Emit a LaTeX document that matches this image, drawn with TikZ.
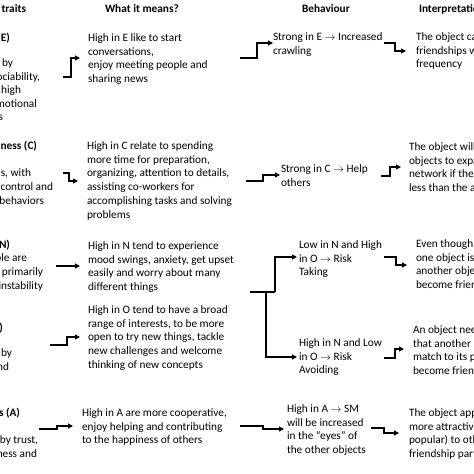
\documentclass[tikz,border=0pt]{standalone}
\usepackage{fontspec}
\setmainfont{Carlito}
\usetikzlibrary{arrows.meta}
\tikzset{
  txt/.style={inner sep=0pt, outer sep=0pt, align=left, anchor=base west, font=\fontsize{11.3}{13.7}\selectfont},
  lft/.style={inner sep=0pt, outer sep=0pt, anchor=base east, font=\fontsize{11.3}{13.7}\selectfont},
  lfthd/.style={lft, font=\fontsize{11.3}{13.7}\selectfont\bfseries},
  hd/.style={inner sep=0pt, outer sep=0pt, anchor=base west, font=\fontsize{11.3}{13.7}\selectfont\bfseries},
  conn/.style={line width=1.1pt, -{Triangle[length=5pt,width=5pt]}},
  plain/.style={line width=1.1pt},
}
\newcommand{\ar}{$\rightarrow$}
\begin{document}
\begin{tikzpicture}[x=1pt,y=-1pt]
\useasboundingbox (0,0) rectangle (474,474);
\fill[white] (0,0) rectangle (474,474);
\clip (0,0) rectangle (474,474);
% headers
\node[lfthd] (h1) at (26,12) {Personality traits};
\node[hd] (h2) at (105,12) {What it means?};
\node[hd] (h3) at (302,12) {Behaviour};
\node[hd] (h4) at (419,12) {Interpretation};
% left column E
\node[lfthd] (le0) at (10,41.5) {(E)};
\node[lft] (le1) at (13,66.5) {by};
\node[lft] (le2) at (40,80.5) {sociability,};
\node[lft] (le3) at (21,93.5) {high};
\node[lft] (le4) at (37,107.5) {emotional};
\node[lft] (le5) at (3,120.5) {s};
% C
\node[lfthd] (lc0) at (37,149.5) {ness (C)};
\node[lft] (lc1) at (31,176.5) {s, with};
\node[lft] (lc2) at (53,190.5) {control and};
\node[lft] (lc3) at (44,204.5) {behaviors};
% N
\node[lfthd] (ln0) at (10,248.5) {N)};
\node[lft] (ln1) at (27,261.5) {people are};
\node[lft] (ln2) at (43,275.5) {primarily};
\node[lft] (ln3) at (43,289.5) {instability};
% O
\node[lfthd] (lo0) at (3,331) {)};
\node[lft] (lo1) at (12,356.5) {by};
\node[lft] (lo2) at (9,370.5) {nd};
% A
\node[lfthd] (la0) at (20,416.5) {s (A)};
\node[lft] (la1) at (38,443.5) {by trust,};
\node[lft] (la2) at (37,457.5) {ness and};
% middle column (base anchor = baseline of last line)
\node[txt] (me) at (88,82.6) {High in E like to start\\conversations,\\enjoy meeting people and\\sharing news};
\node[txt] (mc) at (87,218) {High in C relate to spending\\more time for preparation,\\organizing, attention to details,\\assisting co-workers for\\accomplishing tasks and solving\\problems};
\node[txt] (mn) at (88,290.6) {High in N tend to experience\\mood swings, anxiety, get upset\\easily and worry about many\\different things};
\node[txt] (mo) at (88,368.3) {High in O tend to have a broad\\range of interests, to be more\\open to try new things, tackle\\new challenges and welcome\\thinking of new concepts};
\node[txt] (ma) at (82,443.9) {High in A are more cooperative,\\enjoy helping and contributing\\to the happiness of others};
% behaviour column
\node[txt] (be) at (273,54.2) {Strong in E \ar{} Increased\\crawling};
\node[txt] (bc) at (281,186.2) {Strong in C \ar{} Help\\others};
\node[txt] (bn) at (299,275.9) {Low in N and High\\in O \ar{} Risk\\Taking};
\node[txt] (bo) at (299,373.9) {High in N and Low\\in O \ar{} Risk\\Avoiding};
\node[txt] (ba) at (287,453.6) {High in A \ar{} SM\\will be increased\\in the “eyes” of\\the other objects};
% interpretation column
\node[txt] (ie) at (416,67.9) {The object can\\friendships with\\frequency};
\node[txt] (ic) at (409,191.6) {The object will\\objects to expand\\network if the\\less than the average};
\node[txt] (in) at (416,288.6) {Even though\\one object is\\another object\\become friends};
\node[txt] (io) at (413,374.6) {An object needs\\that another\\match to its personality\\become friends};
\node[txt] (ia) at (409,457.6) {The object appears\\more attractive\\popular) to other\\friendship partners};
% connector coordinates
\coordinate (e1s) at (63,77);   \coordinate (e1e) at (80,58);
\coordinate (e2s) at (240,58);  \coordinate (e2e) at (273,43);
\coordinate (e3s) at (384,43);  \coordinate (e3e) at (406,51);
\coordinate (c1s) at (63,173);  \coordinate (c1e) at (78,181);
\coordinate (c2s) at (246,181); \coordinate (c2e) at (280,175);
\coordinate (c3s) at (381,176); \coordinate (c3e) at (401,167);
\coordinate (n1s) at (56,266);  \coordinate (n1e) at (80,266);
\coordinate (fs) at (250,292);  \coordinate (fj) at (275,292); \coordinate (fd) at (266,292);
\coordinate (n2e) at (297,257); \coordinate (o2e) at (297,357);
\coordinate (n3s) at (384,257); \coordinate (n3e) at (407,265);
\coordinate (o1s) at (50,345);  \coordinate (o1e) at (80,337);
\coordinate (o3s) at (384,358); \coordinate (o3e) at (404,349);
\coordinate (a1s) at (39,429);  \coordinate (a1e) at (73,426);
\coordinate (a2s) at (240,426); \coordinate (a2e) at (284,429);
\coordinate (a3s) at (371,428); \coordinate (a3e) at (399,433);
% connectors
\draw[conn] (e1s) -- ++(8,0) |- (e1e);
\draw[conn] (e2s) -- ++(17,0) |- (e2e);
\draw[conn] (e3s) -- ++(11,0) |- (e3e);
\draw[conn] (c1s) -- ++(6,0) |- (c1e);
\draw[conn] (c2s) -- ++(17,0) |- (c2e);
\draw[conn] (c3s) -- ++(9,0) |- (c3e);
\draw[conn] (n1s) -- (n1e);
\draw[plain] (fs) -- (fj);
\draw[conn] (fj) |- (n2e);
\draw[conn] (fd) |- (o2e);
\draw[conn] (n3s) -- ++(12,0) |- (n3e);
\draw[conn] (o1s) -- ++(17,0) |- (o1e);
\draw[conn] (o3s) -- ++(11,0) |- (o3e);
\draw[conn] (a1s) -- ++(18,0) |- (a1e);
\draw[conn] (a2s) -- ++(23,0) |- (a2e);
\draw[conn] (a3s) -- ++(13,0) |- (a3e);
\end{tikzpicture}
\end{document}
